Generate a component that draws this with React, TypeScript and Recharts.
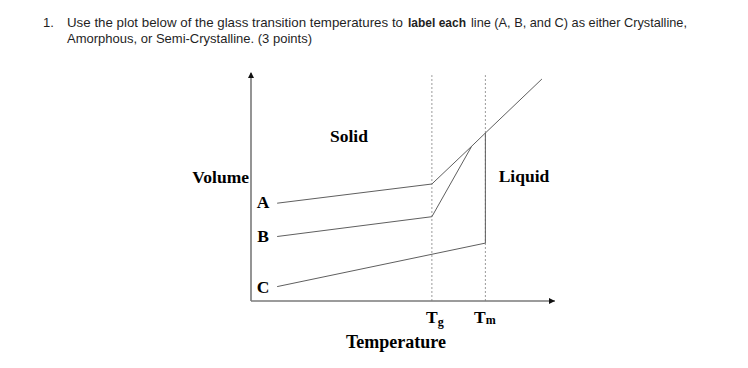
import React from "react";
import {
  LineChart,
  Line,
  XAxis,
  YAxis,
  ReferenceLine,
  ReferenceDot,
  Customized,
} from "recharts";

// Temperature (x) and volume (y) readings for each curve, in arbitrary chart units
const lineATemps = [8.6, 59.5, 72.6, 77.1, 95.7];
const lineAVolumes = [32.6, 39, 51.6, 56, 74];
const lineBTemps = [8.6, 59.5, 72.6];
const lineBVolumes = [21.5, 28.1, 51.6];
const lineCTemps = [8.6, 77.1, 77.1];
const lineCVolumes = [4.8, 19.3, 56];

// Characteristic temperatures
const glassTemp = 59.5; // Tg
const meltTemp = 77.1; // Tm
const guideTop = 75.3;

const xDomain: [number, number] = [0, 100];
const yDomain: [number, number] = [0, 76];

const toPoints = (ts: number[], vs: number[]) => ts.map((t, i) => ({ t, v: vs[i] }));
const dataA = toPoints(lineATemps, lineAVolumes);
const dataB = toPoints(lineBTemps, lineBVolumes);
const dataC = toPoints(lineCTemps, lineCVolumes);

const SERIF = "'Liberation Serif', 'Times New Roman', serif";
const SANS = "'Liberation Sans', Arial, sans-serif";
const LINE = "#5f5f5f";
const AXIS = "#7a7a7a";
const GUIDE = "#9a9a9a";

const ArrowUp = (props: any) => {
  const { cx, cy } = props;
  return <path d={`M${cx - 3},${cy + 5} L${cx + 3},${cy + 5} L${cx},${cy - 1} Z`} fill="#111" />;
};
const ArrowRight = (props: any) => {
  const { cx, cy } = props;
  return <path d={`M${cx - 6},${cy - 3} L${cx - 6},${cy + 3} L${cx},${cy} Z`} fill="#111" />;
};

const Overlay = () => (
  <g>
    <g fontFamily={SANS} fontSize={13} fill="#1f1f1f">
      <text x={43} y={27}>1.</text>
      <text x={67} y={27} textLength={336} lengthAdjust="spacingAndGlyphs">
        Use the plot below of the glass transition temperatures to
      </text>
      <text x={408} y={27} textLength={58} lengthAdjust="spacingAndGlyphs" fontWeight="bold" fontSize={12.5}>
        label each
      </text>
      <text x={471} y={27} textLength={216} lengthAdjust="spacingAndGlyphs">
        line (A, B, and C) as either Crystalline,
      </text>
      <text x={67} y={43} textLength={245} lengthAdjust="spacingAndGlyphs">
        Amorphous, or Semi-Crystalline. (3 points)
      </text>
    </g>
    <g fontFamily={SERIF} fontWeight="bold" fill="#000" fontSize={17.5}>
      <text x={349} y={142} textAnchor="middle">Solid</text>
      <text x={249} y={183} textAnchor="end">Volume</text>
      <text x={524} y={182} textAnchor="middle">Liquid</text>
      <text x={263} y={208} textAnchor="middle">A</text>
      <text x={263} y={242} textAnchor="middle">B</text>
      <text x={263} y={293} textAnchor="middle">C</text>
      <text x={396} y={348} textAnchor="middle" fontSize={18}>Temperature</text>
      <text x={426} y={323}>
        T<tspan fontSize={12} dy={3}>g</tspan>
      </text>
      <text x={474} y={323}>
        T<tspan fontSize={12} dy={1}>m</tspan>
      </text>
    </g>
  </g>
);

export default function App() {
  return (
    <div style={{ position: "absolute", left: 0, top: 0, width: 748, height: 368, background: "#fff" }}>
      <LineChart width={748} height={368} margin={{ top: 73, right: 193, bottom: 67, left: 251 }}>
        <XAxis type="number" dataKey="t" domain={xDomain} allowDataOverflow hide />
        <YAxis type="number" domain={yDomain} allowDataOverflow hide />
        <ReferenceLine
          segment={[{ x: glassTemp, y: 0 }, { x: glassTemp, y: guideTop }]}
          stroke={GUIDE}
          strokeDasharray="2 2"
          strokeWidth={1}
        />
        <ReferenceLine
          segment={[{ x: meltTemp, y: 0 }, { x: meltTemp, y: guideTop }]}
          stroke={GUIDE}
          strokeDasharray="2 2"
          strokeWidth={1}
        />
        <ReferenceLine
          segment={[{ x: xDomain[0], y: yDomain[0] }, { x: xDomain[1], y: yDomain[0] }]}
          stroke={AXIS}
          strokeWidth={1.6}
          ifOverflow="visible"
        />
        <ReferenceLine
          segment={[{ x: xDomain[0], y: yDomain[0] }, { x: xDomain[0], y: yDomain[1] }]}
          stroke={AXIS}
          strokeWidth={1.6}
          ifOverflow="visible"
        />
        <Line data={dataA} dataKey="v" type="linear" stroke={LINE} strokeWidth={1} dot={false} isAnimationActive={false} />
        <Line data={dataB} dataKey="v" type="linear" stroke={LINE} strokeWidth={1} dot={false} isAnimationActive={false} />
        <Line data={dataC} dataKey="v" type="linear" stroke={LINE} strokeWidth={1} dot={false} isAnimationActive={false} />
        <ReferenceDot x={xDomain[0]} y={yDomain[1]} r={0} shape={ArrowUp} ifOverflow="visible" />
        <ReferenceDot x={xDomain[1]} y={yDomain[0]} r={0} shape={ArrowRight} ifOverflow="visible" />
        <Customized component={Overlay} />
      </LineChart>
    </div>
  );
}
